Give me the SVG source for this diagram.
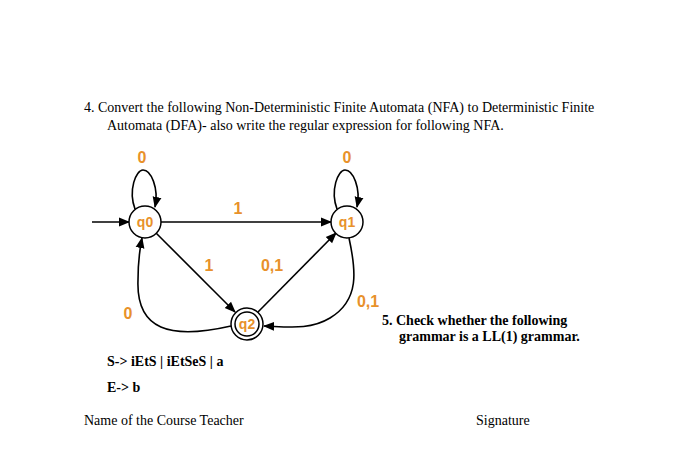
<svg xmlns="http://www.w3.org/2000/svg" width="700" height="451" viewBox="0 0 700 451">
<style>
.t{font-family:"Liberation Serif",serif;font-size:14px;fill:#000}
.b{font-weight:bold}
.l{font-family:"Liberation Sans",Arial,sans-serif;font-weight:bold;font-size:16px;fill:#e8912a;text-anchor:middle}
.q{font-size:14px}
.n{fill:#fff;stroke:#000;stroke-width:1.5}
.e{fill:none;stroke:#000;stroke-width:1.6;marker-end:url(#a)}
</style>
<defs><marker id="a" viewBox="0 0 10 10" refX="9" refY="5" markerWidth="7" markerHeight="7" orient="auto"><path d="M0,1L10,5L0,9z" fill="#000"/></marker></defs>
<rect width="700" height="451" fill="#fff"/>
<text class="t" x="84" y="112">4. Convert the following Non-Deterministic Finite Automata (NFA) to Deterministic Finite</text>
<text class="t" x="107" y="130">Automata (DFA)- also write the regular expression for following NFA.</text>
<g id="edges">
<path class="e" d="M92,222H129"/>
<path class="e" d="M161,222H331"/>
<path class="e" d="M156,233L235,312"/>
<path class="e" d="M258,312L336,233"/>
<path class="e" d="M135,209C128,190 136,170 143,170C151,170 159,188 155,207"/>
<path class="e" d="M337,209C330,190 338,170 345,170C353,170 361,188 357,207"/>
<path class="e" d="M231,326C170,340 136,330 138,280C138,260 140,248 142,238"/>
<path class="e" d="M349,238C356,270 360,300 330,318C310,330 290,327 264,326"/>
</g>
<g id="q0"><circle class="n" cx="145" cy="222" r="16"/><text class="l q" x="145" y="227">q0</text></g>
<g id="q1"><circle class="n" cx="347" cy="222" r="16"/><text class="l q" x="347" y="227">q1</text></g>
<g id="q2"><circle class="n" cx="247" cy="324" r="16"/><circle class="n" cx="247" cy="324" r="12" fill="none"/><text class="l q" x="247" y="329">q2</text></g>
<g id="labels">
<text class="l" x="142" y="163">0</text>
<text class="l" x="347" y="163">0</text>
<text class="l" x="238" y="214">1</text>
<text class="l" x="209" y="271">1</text>
<text class="l" x="272" y="271">0,1</text>
<text class="l" x="128" y="319">0</text>
<text class="l" x="368" y="307">0,1</text>
</g>
<text class="t b" x="382" y="325">5. Check whether the following</text>
<text class="t b" x="399" y="341">grammar is a LL(1) grammar.</text>
<text class="t b" x="107" y="366">S-&gt; iEtS | iEtSeS | a</text>
<text class="t b" x="107" y="392">E-&gt; b</text>
<text class="t" x="84" y="425">Name of the Course Teacher</text>
<text class="t" x="476" y="425">Signature</text>
</svg>
